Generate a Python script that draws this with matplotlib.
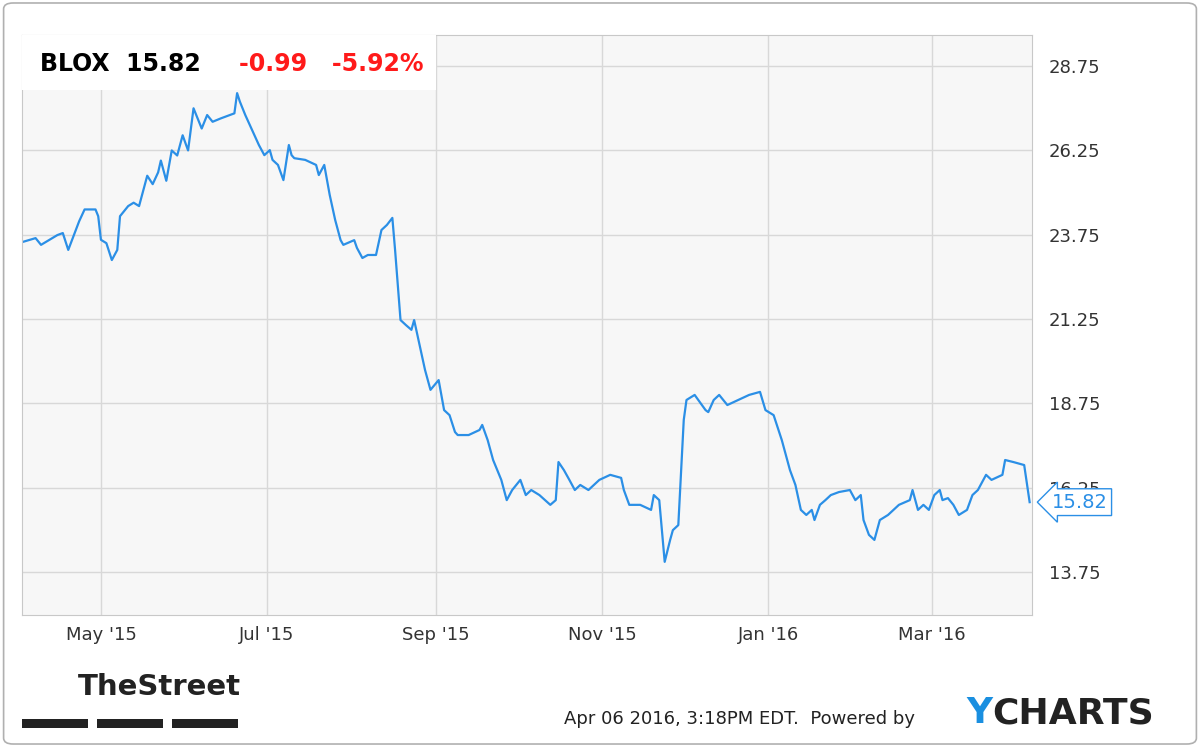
import matplotlib
matplotlib.use("Agg")
import matplotlib.pyplot as plt
import matplotlib.dates as mdates
import pandas as pd
from matplotlib.patches import FancyBboxPatch, Rectangle

ticker = "BLOX"
last_price = 15.82
change = "-0.99"
change_pct = "-5.92%"

dates = ["2015-04-02", "2015-04-07", "2015-04-09", "2015-04-15", "2015-04-17", "2015-04-19",
         "2015-04-23", "2015-04-25", "2015-04-29", "2015-04-30", "2015-05-01", "2015-05-03",
         "2015-05-05", "2015-05-07", "2015-05-08", "2015-05-11", "2015-05-13", "2015-05-15",
         "2015-05-18", "2015-05-20", "2015-05-22", "2015-05-23", "2015-05-25", "2015-05-27",
         "2015-05-29", "2015-05-31", "2015-06-02", "2015-06-04", "2015-06-06", "2015-06-07",
         "2015-06-09", "2015-06-11", "2015-06-14", "2015-06-19", "2015-06-20", "2015-06-21",
         "2015-06-23", "2015-06-28", "2015-06-30", "2015-07-02", "2015-07-03", "2015-07-05",
         "2015-07-07", "2015-07-09", "2015-07-10", "2015-07-11", "2015-07-15", "2015-07-19",
         "2015-07-20", "2015-07-22", "2015-07-24", "2015-07-26", "2015-07-28", "2015-07-29",
         "2015-08-02", "2015-08-03", "2015-08-05", "2015-08-07", "2015-08-10", "2015-08-12",
         "2015-08-14", "2015-08-16", "2015-08-17", "2015-08-19", "2015-08-21", "2015-08-23",
         "2015-08-24", "2015-08-26", "2015-08-28", "2015-08-30", "2015-09-02", "2015-09-04",
         "2015-09-06", "2015-09-08", "2015-09-09", "2015-09-13", "2015-09-17", "2015-09-18",
         "2015-09-20", "2015-09-22", "2015-09-25", "2015-09-27", "2015-09-29", "2015-10-02",
         "2015-10-04", "2015-10-06", "2015-10-09", "2015-10-13", "2015-10-15", "2015-10-16",
         "2015-10-18", "2015-10-20", "2015-10-22", "2015-10-24", "2015-10-27", "2015-10-31",
         "2015-11-04", "2015-11-08", "2015-11-09", "2015-11-11", "2015-11-15", "2015-11-19",
         "2015-11-20", "2015-11-22", "2015-11-24", "2015-11-26", "2015-11-27", "2015-11-29",
         "2015-12-01", "2015-12-02", "2015-12-05", "2015-12-09", "2015-12-10", "2015-12-12",
         "2015-12-14", "2015-12-17", "2015-12-21", "2015-12-25", "2015-12-29", "2015-12-31",
         "2016-01-03", "2016-01-06", "2016-01-08", "2016-01-09", "2016-01-11", "2016-01-13",
         "2016-01-15", "2016-01-17", "2016-01-18", "2016-01-20", "2016-01-22", "2016-01-24",
         "2016-01-27", "2016-01-31", "2016-02-02", "2016-02-04", "2016-02-05", "2016-02-07",
         "2016-02-09", "2016-02-11", "2016-02-14", "2016-02-16", "2016-02-18", "2016-02-22",
         "2016-02-23", "2016-02-25", "2016-02-27", "2016-02-29", "2016-03-02", "2016-03-04",
         "2016-03-05", "2016-03-07", "2016-03-09", "2016-03-11", "2016-03-14", "2016-03-16",
         "2016-03-18", "2016-03-20", "2016-03-21", "2016-03-23", "2016-03-27", "2016-03-28",
         "2016-03-31", "2016-04-04", "2016-04-06"]

prices = [23.53, 23.65, 23.45, 23.74, 23.80, 23.30,
          24.15, 24.50, 24.50, 24.30, 23.60, 23.50,
          23.00, 23.30, 24.30, 24.60, 24.70, 24.60,
          25.50, 25.25, 25.60, 25.95, 25.35, 26.25,
          26.10, 26.70, 26.25, 27.50, 27.10, 26.90,
          27.30, 27.10, 27.20, 27.35, 27.95, 27.70,
          27.30, 26.41, 26.11, 26.26, 25.97, 25.82,
          25.37, 26.41, 26.11, 26.02, 25.97, 25.82,
          25.52, 25.82, 24.93, 24.19, 23.59, 23.45,
          23.59, 23.36, 23.06, 23.15, 23.15, 23.89,
          24.04, 24.25, 23.30, 21.22, 21.07, 20.93,
          21.22, 20.48, 19.74, 19.15, 19.44, 18.55,
          18.40, 17.90, 17.81, 17.81, 17.96, 18.11,
          17.66, 17.07, 16.48, 15.88, 16.18, 16.48,
          16.03, 16.18, 16.03, 15.74, 15.88, 17.01,
          16.77, 16.48, 16.18, 16.33, 16.18, 16.48,
          16.63, 16.54, 16.18, 15.74, 15.74, 15.59,
          16.03, 15.88, 14.05, 14.70, 14.99, 15.14,
          18.26, 18.85, 19.00, 18.55, 18.49, 18.85,
          19.00, 18.70, 18.85, 19.00, 19.09, 18.55,
          18.40, 17.66, 17.07, 16.77, 16.33, 15.59,
          15.44, 15.59, 15.29, 15.74, 15.88, 16.03,
          16.12, 16.18, 15.88, 16.03, 15.29, 14.85,
          14.70, 15.29, 15.44, 15.59, 15.74, 15.88,
          16.18, 15.59, 15.74, 15.59, 16.03, 16.18,
          15.88, 15.94, 15.74, 15.44, 15.59, 16.03,
          16.18, 16.48, 16.63, 16.48, 16.63, 17.07,
          17.01, 16.92, 15.82]

yticks = [13.75, 16.25, 18.75, 21.25, 23.75, 26.25, 28.75]
month_ticks = ["2015-05-01", "2015-07-01", "2015-09-01", "2015-11-01", "2016-01-01", "2016-03-01"]

x = pd.to_datetime(dates)
blue = "#2b8fe6"

fig = plt.figure(figsize=(12, 7.47), dpi=100)
fig.patch.set_facecolor("white")
fig.add_artist(FancyBboxPatch((0.003, 0.004), 0.994, 0.992, boxstyle="round,pad=0,rounding_size=0.008",
                              transform=fig.transFigure, fc="none", ec="#b0b0b0", lw=1.2, zorder=-10))

ax = fig.add_axes([0.0183, 0.177, 0.842, 0.776])
ax.set_facecolor("#f7f7f7")
ax.plot(x, prices, color=blue, lw=1.6)
ax.set_xlim(pd.Timestamp("2015-04-02"), pd.Timestamp("2016-04-07"))
ax.set_ylim(12.48, 29.67)
ax.set_yticks(yticks)
ax.set_yticklabels([f"{v:.2f}" for v in yticks])
ax.yaxis.tick_right()
ax.set_xticks(pd.to_datetime(month_ticks))
ax.xaxis.set_major_formatter(mdates.DateFormatter("%b '%y"))
ax.grid(True, color="#d8d8d8", lw=1)
ax.set_axisbelow(True)
ax.tick_params(length=0, labelsize=13, colors="#333333", pad=8)
ax.tick_params(axis="y", pad=12)
for s in ax.spines.values():
    s.set_color("#c8c8c8")

# header box
ax.add_patch(Rectangle((0, 0.905), 0.41, 0.095, transform=ax.transAxes, fc="white", ec="none", zorder=3))
ax.text(0.018, 0.95, f"{ticker}  {last_price:.2f}", transform=ax.transAxes, fontsize=17,
        fontweight="bold", va="center", color="black", zorder=4)
ax.text(0.215, 0.95, f"{change}   {change_pct}", transform=ax.transAxes, fontsize=17,
        fontweight="bold", va="center", color="#ff1a1a", zorder=4)

# last price tag
ax.annotate(f"{last_price:.2f}", xy=(1.0, last_price), xycoords=("axes fraction", "data"),
            xytext=(14, 0), textcoords="offset points", va="center", ha="left",
            fontsize=14, color=blue, annotation_clip=False, zorder=5,
            bbox=dict(boxstyle="larrow,pad=0.2", fc="white", ec=blue, lw=1))

# footer
fig.text(0.065, 0.062, "TheStreet", fontsize=21, fontweight="bold", family="Liberation Sans Narrow",
         color="#222222", ha="left", va="bottom")
for i in range(3):
    fig.add_artist(Rectangle((0.018 + i * 0.0625, 0.026), 0.055, 0.011, transform=fig.transFigure,
                             fc="#222222", ec="none"))
fig.text(0.47, 0.038, "Apr 06 2016, 3:18PM EDT.  Powered by", fontsize=13, color="#222222", va="center")
fig.text(0.805, 0.045, "Y", fontsize=26, fontweight="bold", color="#1a8fe0", va="center")
fig.text(0.827, 0.045, "CHARTS", fontsize=26, fontweight="bold", color="#222222", va="center")

fig.savefig("out.png", dpi=100)
